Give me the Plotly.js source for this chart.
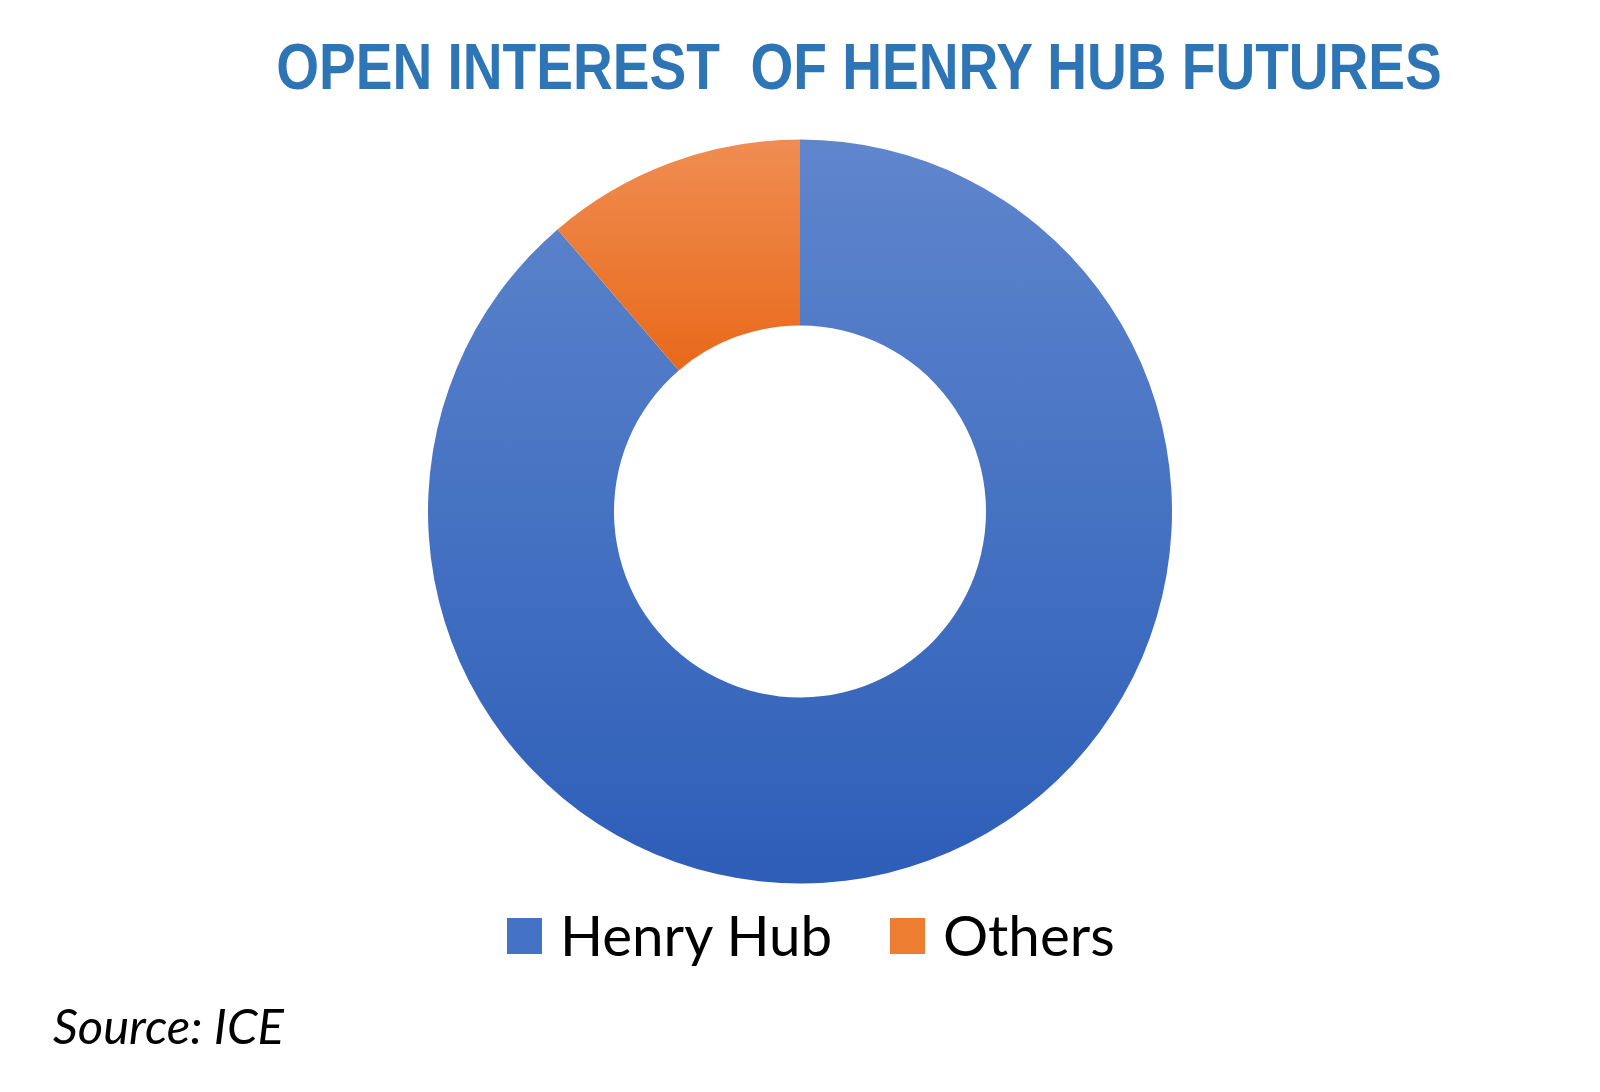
<!DOCTYPE html>
<html>
<head>
<meta charset="utf-8">
<script src="https://cdn.plot.ly/plotly-3.0.1.min.js"></script>
<style>
  html, body { margin: 0; padding: 0; background: #fff; }
  #chart { width: 1600px; height: 1092px; }
</style>
</head>
<body>
<div id="chart"></div>
<script>
// data
const labels = ["Henry Hub", "Others"];
const shares = [88.7, 11.3];
const colors = ["#4472c4", "#ed7d31"];
// light top / dark bottom of each slice
const gradTop = ["#5f86cd", "#f08d52"];
const gradBottom = ["#2d5eb8", "#e8691a"];

const W = 1600, H = 1092;
const px = x => x / W;
const py = y => 1 - y / H;

const cx = 800, cy = 511.5, R = 372;

const trace = {
  type: "pie",
  labels: labels,
  values: shares,
  hole: 0.5,
  sort: false,
  direction: "clockwise",
  rotation: 0,
  textinfo: "none",
  hoverinfo: "label+percent",
  marker: { colors: colors, line: { width: 0 } },
  domain: { x: [px(cx - R), px(cx + R)], y: [py(cy + R), py(cy - R)] },
  showlegend: false
};

// legend drawn by hand so the swatches can be as big as in the original
const legendX = [507, 890];
const shapes = labels.map((l, i) => ({
  type: "rect", xref: "paper", yref: "paper",
  x0: px(legendX[i]), x1: px(legendX[i] + 35),
  y0: py(954), y1: py(918),
  fillcolor: colors[i], line: { width: 0 }
}));
const annotations = labels.map((l, i) => ({
  text: l, xref: "paper", yref: "paper",
  x: px(legendX[i] + 51), y: py(934),
  xanchor: "left", yanchor: "middle", showarrow: false,
  font: { family: "Lato, sans-serif", size: 56.5, color: "#000" }
}));
annotations.push({
  text: "<i>Source: ICE</i>", xref: "paper", yref: "paper",
  x: px(51), y: py(1025), xanchor: "left", yanchor: "middle", showarrow: false,
  font: { family: "Lato, sans-serif", size: 49, color: "#000" }
});

const titleCx = 859, titleW = 1166;

const layout = {
  width: W, height: H,
  margin: { l: 0, r: 0, t: 0, b: 0 },
  paper_bgcolor: "#fff",
  title: {
    text: "<b>OPEN INTEREST  OF HENRY HUB FUTURES</b>",
    x: px(titleCx), xanchor: "center",
    y: py(67), yanchor: "middle", yref: "paper",
    font: { family: "Liberation Sans Narrow, Arial Narrow, sans-serif", size: 64, color: "#2e75b6" }
  },
  shapes: shapes,
  annotations: annotations
};

Plotly.newPlot("chart", [trace], layout, { displayModeBar: false, staticPlot: true }).then(gd => {
  // squeeze the title horizontally to the condensed width of the original
  const t = gd.querySelector(".gtitle");
  if (t) {
    const w = t.getBBox().width;
    const k = Math.min(1, titleW / w);
    const old = t.getAttribute("transform") || "";
    t.setAttribute("transform",
      old + " translate(" + titleCx + ",0) scale(" + k + ",1) translate(" + (-titleCx) + ",0)");
  }
  // vertical gradient fill like the original
  const svg = gd.querySelector(".main-svg");
  const ns = "http://www.w3.org/2000/svg";
  let defs = svg.querySelector("defs");
  if (!defs) { defs = document.createElementNS(ns, "defs"); svg.prepend(defs); }
  labels.forEach((l, i) => {
    const g = document.createElementNS(ns, "linearGradient");
    g.setAttribute("id", "grad" + i);
    g.setAttribute("x1", "0"); g.setAttribute("y1", "0");
    g.setAttribute("x2", "0"); g.setAttribute("y2", "1");
    [[0, gradTop[i]], [1, gradBottom[i]]].forEach(([o, c]) => {
      const s = document.createElementNS(ns, "stop");
      s.setAttribute("offset", o);
      s.setAttribute("stop-color", c);
      g.appendChild(s);
    });
    defs.appendChild(g);
  });
  gd.querySelectorAll(".slice path.surface").forEach((p, i) => {
    p.style.fill = "url(#grad" + i + ")";
  });
  svg.querySelectorAll(".shapelayer path").forEach((p, i) => {
    if (i < labels.length) p.style.fill = "url(#grad" + i + ")";
  });
});
</script>
</body>
</html>
